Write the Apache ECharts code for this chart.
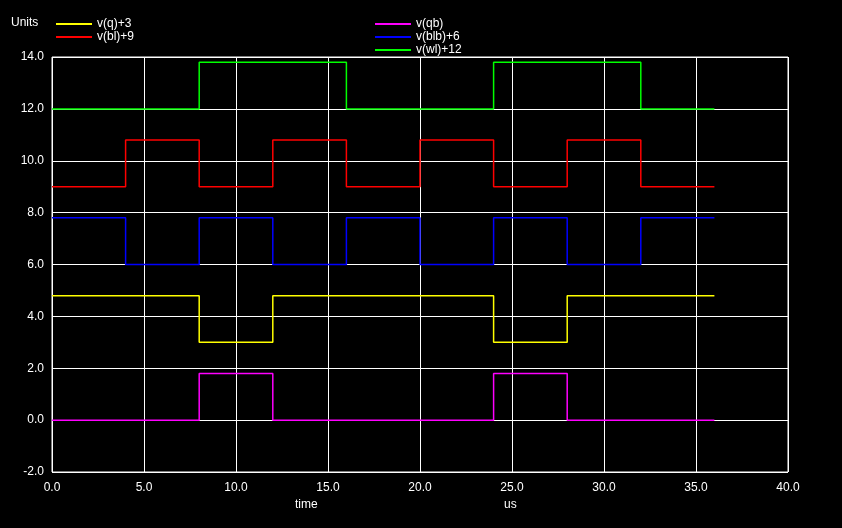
<!DOCTYPE html>
<html>
<head>
<meta charset="utf-8">
<script src="https://cdn.jsdelivr.net/npm/echarts@6/dist/echarts.min.js"></script>
<style>
html, body { margin: 0; padding: 0; background: #000; }
#main { width: 842px; height: 528px; }
</style>
</head>
<body>
<div id="main"></div>
<script>
// step edges in us, values per segment
const tq = [0, 8, 12, 24, 28, 36];
const vq = [4.8, 3, 4.8, 3, 4.8];
const tbl = [0, 4, 8, 12, 16, 20, 24, 28, 32, 36];
const vbl = [9, 10.8, 9, 10.8, 9, 10.8, 9, 10.8, 9];
const tqb = [0, 8, 12, 24, 28, 36];
const vqb = [0, 1.8, 0, 1.8, 0];
const tblb = [0, 4, 8, 12, 16, 20, 24, 28, 32, 36];
const vblb = [7.8, 6, 7.8, 6, 7.8, 6, 7.8, 6, 7.8];
const twl = [0, 8, 16, 24, 32, 36];
const vwl = [12, 13.8, 12, 13.8, 12];

function steps(t, v) {
	let pts = [];
	for (let i = 0; i < v.length; i++) {
		pts.push([t[i], v[i]]);
		pts.push([t[i + 1], v[i]]);
	}
	return pts;
}

function line(name, t, v, color) {
	return {
		name: name,
		type: 'line',
		data: steps(t, v),
		showSymbol: false,
		animation: false,
		lineStyle: { color: color, width: 1.5 },
		itemStyle: { color: color }
	};
}

const myCharts = echarts.init(document.getElementById('main'));
const txt = { color: '#fff', fontFamily: 'Liberation Sans', fontSize: 12 };

let option = {
	backgroundColor: '#000',
	grid: { left: 52, right: 54, top: 57, bottom: 56, show: true, borderColor: '#fff', borderWidth: 1 },
	legend: [{
		left: 51, top: 13, orient: 'vertical', itemGap: 1, itemWidth: 36, itemHeight: 2, icon: 'rect',
		textStyle: txt, data: ['v(q)+3', 'v(bl)+9']
	}, {
		left: 370, top: 13, orient: 'vertical', itemGap: 1, itemWidth: 36, itemHeight: 2, icon: 'rect',
		textStyle: txt, data: ['v(qb)', 'v(blb)+6', 'v(wl)+12']
	}],
	graphic: [
		{ type: 'text', left: 11, top: 17, style: { text: 'Units', fill: '#fff', font: '12px Liberation Sans' } },
		{ type: 'text', left: 295, top: 499, style: { text: 'time', fill: '#fff', font: '12px Liberation Sans' } },
		{ type: 'text', left: 504, top: 499, style: { text: 'us', fill: '#fff', font: '12px Liberation Sans' } }
	],
	xAxis: {
		type: 'value', min: 0, max: 40, interval: 5,
		axisLine: { show: false }, axisTick: { show: false },
		splitLine: { lineStyle: { color: '#fff', width: 1 } },
		axisLabel: { color: '#fff', fontSize: 12, fontFamily: 'Liberation Sans', formatter: v => v.toFixed(1), margin: 10 }
	},
	yAxis: {
		type: 'value', min: -2, max: 14, interval: 2,
		axisLine: { show: false }, axisTick: { show: false },
		splitLine: { lineStyle: { color: '#fff', width: 1 } },
		axisLabel: { color: '#fff', fontSize: 12, fontFamily: 'Liberation Sans', formatter: v => v.toFixed(1), margin: 8 }
	},
	series: [
		line('v(q)+3', tq, vq, '#ffff00'),
		line('v(bl)+9', tbl, vbl, '#ff0000'),
		line('v(qb)', tqb, vqb, '#ff00ff'),
		line('v(blb)+6', tblb, vblb, '#0000ff'),
		line('v(wl)+12', twl, vwl, '#00ff00')
	]
};

myCharts.setOption(option);
</script>
</body>
</html>
